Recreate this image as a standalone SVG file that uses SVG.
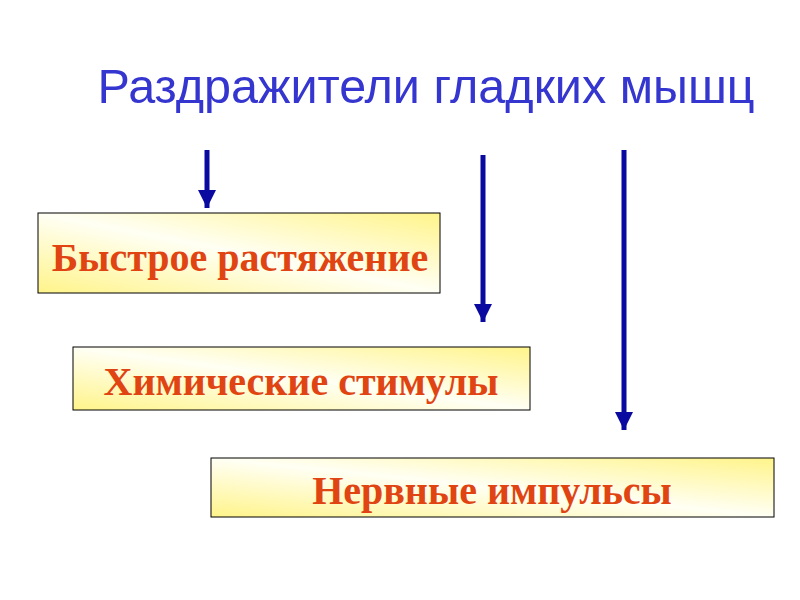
<svg xmlns="http://www.w3.org/2000/svg" width="800" height="600" viewBox="0 0 800 600">
<defs>
<linearGradient id="g" x1="0" y1="1" x2="1" y2="0">
<stop offset="0" stop-color="#fff48a"/><stop offset="0.5" stop-color="#fffff4"/><stop offset="1" stop-color="#fff48a"/>
</linearGradient>
<marker id="ah" viewBox="0 0 10 10" refX="10" refY="5" markerWidth="3.6" markerHeight="4" orient="auto" markerUnits="strokeWidth">
<path d="M0,0 L10,5 L0,10 Z" fill="#0a0aa0"/>
</marker>
</defs>
<style>
.box{fill:url(#g);stroke:#000;stroke-width:1}
.lbl{font-family:"Liberation Serif",serif;font-weight:bold;font-size:40px;fill:#e04412;text-anchor:middle}
.arr{stroke:#0a0aa0;stroke-width:5;fill:none;marker-end:url(#ah)}
</style>
<rect width="800" height="600" fill="#fff"/>
<text x="426" y="103" font-family="Liberation Sans, sans-serif" font-size="48.5" fill="#3535d0" text-anchor="middle">Раздражители гладких мышц</text>
<g id="connectors">
<line class="arr" x1="207" y1="150" x2="207" y2="208"/>
<line class="arr" x1="483" y1="155" x2="483" y2="322"/>
<line class="arr" x1="624" y1="150" x2="624" y2="430"/>
</g>
<g id="n1"><rect class="box" x="38" y="213" width="402" height="80"/><text class="lbl" x="240" y="271">Быстрое растяжение</text></g>
<g id="n2"><rect class="box" x="73" y="347" width="457" height="63"/><text class="lbl" x="301" y="395">Химические стимулы</text></g>
<g id="n3"><rect class="box" x="211" y="458" width="563" height="59"/><text class="lbl" x="492" y="504">Нервные импульсы</text></g>
</svg>
